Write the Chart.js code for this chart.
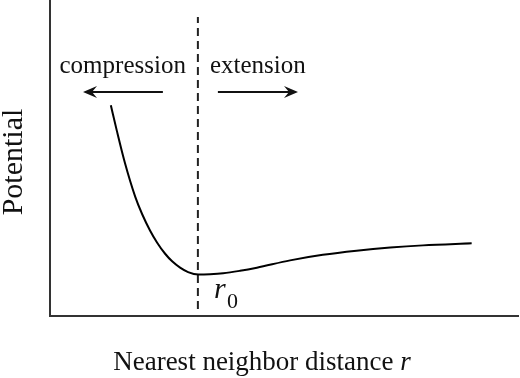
<!DOCTYPE html>
<html>
<head>
<meta charset="utf-8">
<script src="https://cdn.jsdelivr.net/npm/chart.js@4/dist/chart.umd.min.js"></script>
<style>
  html, body { margin: 0; padding: 0; background: #fff; }
  #wrap { width: 520px; height: 378px; }
</style>
</head>
<body>
<div id="wrap"><canvas id="potChart" width="520" height="378"></canvas></div>
<script>
// nearest neighbor distance r (arbitrary units) and potential
var distR = [1.30, 1.43, 1.60, 1.82, 1.97, 2.14, 2.29, 2.46, 2.61, 2.78, 2.95, 3.17, 3.42, 3.70, 4.06, 4.42, 5.13, 5.83, 6.55, 7.27, 7.97, 9.01];
var potential = [6.67, 5.85, 4.85, 3.78, 3.22, 2.70, 2.32, 1.97, 1.73, 1.53, 1.39, 1.31, 1.32, 1.35, 1.43, 1.53, 1.76, 1.935, 2.065, 2.165, 2.235, 2.30];

// equilibrium distance r0 (dashed line) and its vertical extent
var r0 = 3.16;
var r0Span = [0.22, 9.46];

var xLabel = "Nearest neighbor distance ";
var xLabelVar = "r";
var yLabel = "Potential";

var curvePts = distR.map(function (r, i) { return { x: r, y: potential[i] }; });
var r0Pts = r0Span.map(function (v) { return { x: r0, y: v }; });

var serif = "'Liberation Serif', 'Times New Roman', serif";

function arrow(ctx, x1, y, x2) {
    var dir = x2 > x1 ? 1 : -1;
    ctx.beginPath();
    ctx.moveTo(x1, y);
    ctx.lineTo(x2 - dir * 8, y);
    ctx.stroke();
    ctx.beginPath();
    ctx.moveTo(x2, y);
    ctx.lineTo(x2 - dir * 14, y - 6);
    ctx.lineTo(x2 - dir * 9, y);
    ctx.lineTo(x2 - dir * 14, y + 6);
    ctx.closePath();
    ctx.fill();
}

var labelsPlugin = {
    id: 'labels',
    afterDraw: function (chart) {
        var ctx = chart.ctx;
        var xs = chart.scales.x;
        var rx = xs.getPixelForValue(r0);
        ctx.save();
        ctx.fillStyle = '#111';
        ctx.strokeStyle = '#111';
        ctx.lineWidth = 2;
        ctx.textBaseline = 'alphabetic';

        // compression / extension
        ctx.font = '25px ' + serif;
        ctx.textAlign = 'right';
        ctx.fillText('compression', rx - 12, 73);
        ctx.textAlign = 'left';
        ctx.fillText('extension', rx + 12, 73);
        arrow(ctx, rx - 35, 92, 83);
        arrow(ctx, rx + 20, 92, 298);

        // r0
        ctx.font = 'italic 30px ' + serif;
        ctx.fillText('r', rx + 16, 298);
        ctx.font = '22px ' + serif;
        ctx.fillText('0', rx + 29, 308);

        // x axis title
        ctx.font = '27px ' + serif;
        var w1 = ctx.measureText(xLabel).width;
        ctx.font = 'italic 27px ' + serif;
        var w2 = ctx.measureText(xLabelVar).width;
        var x0 = 262 - (w1 + w2) / 2;
        ctx.font = '27px ' + serif;
        ctx.fillText(xLabel, x0, 370);
        ctx.font = 'italic 27px ' + serif;
        ctx.fillText(xLabelVar, x0 + w1, 370);

        // y axis title
        ctx.translate(22, 162);
        ctx.rotate(-Math.PI / 2);
        ctx.font = '30px ' + serif;
        ctx.textAlign = 'center';
        ctx.fillText(yLabel, 0, 0);
        ctx.restore();
    }
};

var ctx = document.getElementById("potChart").getContext("2d");
new Chart(ctx, {
    type: 'line',
    data: {
        datasets: [
            {
                label: 'potential',
                data: curvePts,
                borderColor: '#000',
                borderWidth: 2,
                pointRadius: 0,
                cubicInterpolationMode: 'monotone',
                fill: false
            },
            {
                label: 'r0',
                data: r0Pts,
                borderColor: '#222',
                borderWidth: 2,
                borderDash: [8, 5],
                pointRadius: 0,
                fill: false
            }
        ]
    },
    options: {
        responsive: false,
        animation: false,
        layout: { padding: { left: 50, right: 2, top: 0, bottom: 62 } },
        plugins: { legend: { display: false }, tooltip: { enabled: false } },
        scales: {
            x: {
                type: 'linear', min: 0, max: 10,
                ticks: { display: false },
                grid: { display: false, drawTicks: false },
                border: { display: true, color: '#333', width: 2 }
            },
            y: {
                type: 'linear', min: 0, max: 10,
                ticks: { display: false },
                grid: { display: false, drawTicks: false },
                border: { display: true, color: '#333', width: 2 }
            }
        }
    },
    plugins: [labelsPlugin]
});
</script>
</body>
</html>
